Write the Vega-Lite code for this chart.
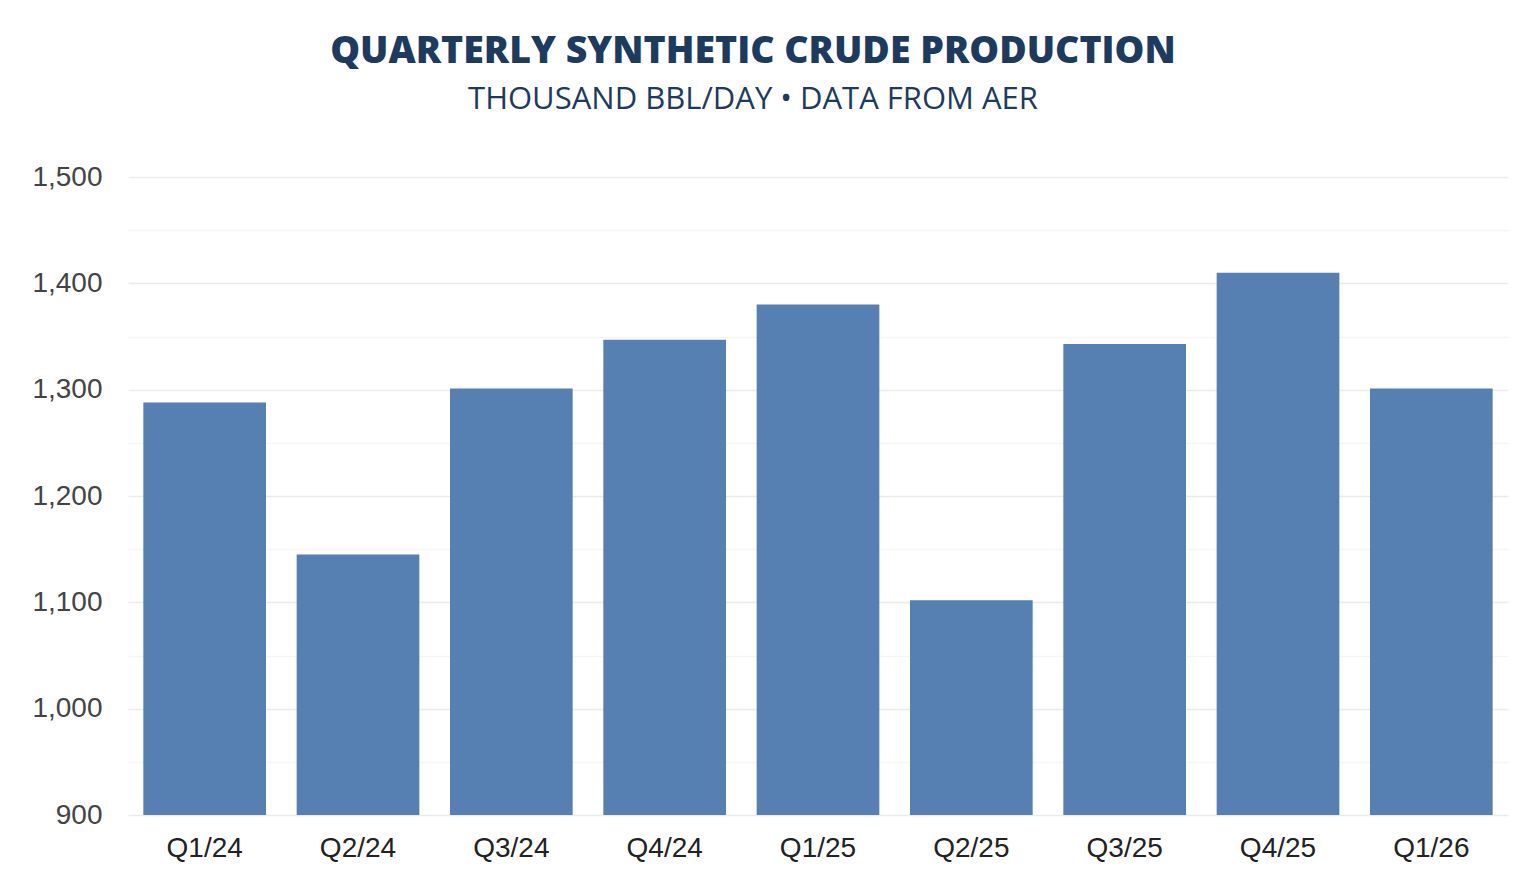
{
  "$schema": "https://vega.github.io/schema/vega-lite/v6.json",
  "width": 1380,
  "height": 638,
  "autosize": {"type": "none"},
  "padding": {"left": 128, "top": 177, "right": 22, "bottom": 77},
  "background": "white",
  "title": {
    "text": "QUARTERLY SYNTHETIC CRUDE PRODUCTION",
    "subtitle": "THOUSAND BBL/DAY • DATA FROM AER",
    "anchor": "middle",
    "dx": -65,
    "offset": 48,
    "font": "Open Sans",
    "fontSize": 37.5,
    "fontWeight": 800,
    "color": "#1d3a5f",
    "subtitleFont": "Open Sans",
    "subtitleFontSize": 31,
    "subtitleFontWeight": 400,
    "subtitleColor": "#1d3a5f",
    "subtitlePadding": 15
  },
  "data": {
    "values": [
      {"quarter": "Q1/24", "production": 1288},
      {"quarter": "Q2/24", "production": 1145},
      {"quarter": "Q3/24", "production": 1301},
      {"quarter": "Q4/24", "production": 1347},
      {"quarter": "Q1/25", "production": 1380},
      {"quarter": "Q2/25", "production": 1102},
      {"quarter": "Q3/25", "production": 1343},
      {"quarter": "Q4/25", "production": 1410},
      {"quarter": "Q1/26", "production": 1301}
    ]
  },
  "mark": {"type": "bar", "color": "#5580b1", "clip": true},
  "encoding": {
    "x": {
      "field": "quarter",
      "type": "nominal",
      "sort": null,
      "scale": {"paddingInner": 0.2, "paddingOuter": 0.1},
      "axis": {
        "title": null,
        "labelAngle": 0,
        "labelFont": "Liberation Sans",
        "labelFontSize": 28,
        "labelColor": "#222222",
        "labelPadding": 19,
        "ticks": false,
        "domain": false,
        "grid": false
      }
    },
    "y": {
      "field": "production",
      "type": "quantitative",
      "scale": {"domain": [900, 1500], "zero": false, "nice": false},
      "axis": {
        "title": null,
        "values": [900, 950, 1000, 1050, 1100, 1150, 1200, 1250, 1300, 1350, 1400, 1450, 1500],
        "labelExpr": "datum.value % 100 === 0 ? format(datum.value, ',') : ''",
        "labelFont": "Liberation Sans",
        "labelFontSize": 28,
        "labelColor": "#444444",
        "labelPadding": 26,
        "ticks": false,
        "domain": false,
        "grid": true,
        "gridWidth": 1.6,
        "gridColor": {
          "condition": {"test": "datum.value % 100 === 0", "value": "#ebebeb"},
          "value": "#f5f5f5"
        }
      }
    }
  },
  "config": {"view": {"stroke": null}}
}
